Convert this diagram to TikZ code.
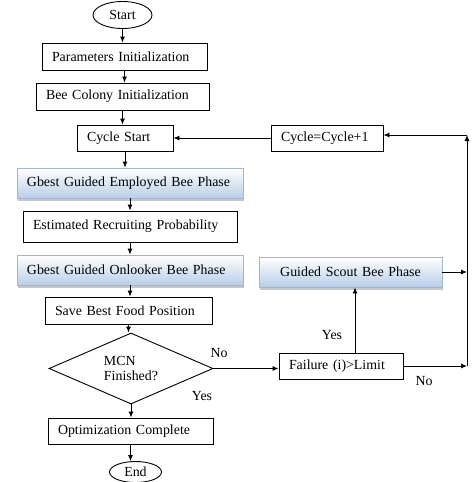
\documentclass[tikz,border=0pt]{standalone}
\usepackage{fontspec}
\setmainfont{Liberation Serif}
\usetikzlibrary{shapes.geometric,shadows,arrows.meta}
\definecolor{phaseblue}{RGB}{184,206,233}
\definecolor{phaseedge}{RGB}{160,182,210}
\tikzset{
  procbox/.style={draw, rectangle, align=left, inner xsep=10pt, inner ysep=0pt, minimum height=27pt},
  phasebox/.style={draw=phaseedge, rectangle, align=left, inner xsep=10pt, inner ysep=0pt, minimum height=30pt,
    top color=white, bottom color=phaseblue,
    drop shadow={shadow xshift=0.5pt, shadow yshift=-3pt, opacity=0.45}},
  termnode/.style={draw, ellipse, inner sep=0pt},
  lbl/.style={inner sep=0pt}
}
\begin{document}
\begin{tikzpicture}[x=1pt,y=-1pt,line width=0.9pt,>={Latex[length=6pt,width=5pt]}]
\fontsize{13.9}{15}\selectfont
\useasboundingbox (0,0) rectangle (474,482);
% left column
\node[termnode, minimum width=59pt, minimum height=27pt] (start) at (122.5,15) {Start};
\node[procbox, text width=145pt] (param) at (124.5,56.5) {Parameters Initialization};
\node[procbox, text width=153pt] (colony) at (122.5,96.5) {Bee Colony Initialization};
\node[procbox, text width=76pt, minimum height=26pt] (cyc) at (125,138) {Cycle Start};
\node[phasebox, text width=206pt] (employed) at (130,183) {Gbest Guided Employed Bee Phase};
\node[procbox, text width=194pt, minimum height=31pt] (prob) at (130,226.5) {Estimated Recruiting Probability};
\node[phasebox, text width=206pt] (onlooker) at (130,270) {Gbest Guided Onlooker Bee Phase};
\node[procbox, text width=147pt] (save) at (128.5,310.5) {Save Best Food Position};
\node[draw, diamond, aspect=2.3, inner sep=0pt, minimum width=164pt, minimum height=71pt, align=left] (mcn) at (131,368.5) {MCN\\Finished?};
\node[procbox, text width=145pt, minimum height=26pt] (opt) at (130.5,431) {Optimization Complete};
\node[termnode, minimum width=52pt, minimum height=21pt] (end) at (135.5,472) {End};
% right column
\node[procbox, text width=92pt, minimum height=26pt] (incr) at (327,138) {Cycle=Cycle+1};
\node[phasebox, align=center, text width=163pt] (scout) at (350.5,272) {Guided Scout Bee Phase};
\node[procbox, text width=104pt, minimum height=26pt] (fail) at (341,366) {Failure (i)>Limit};
\coordinate (corner) at (467,135);
% labels
\node[lbl] (no1) at (219,353) {No};
\node[lbl] (yes1) at (202,396) {Yes};
\node[lbl] (yes2) at (332,335) {Yes};
\node[lbl] (no2) at (424,381) {No};
% connectors
\foreach \a/\b in {start/param, param/colony, colony/cyc, cyc/employed, employed/prob,
  prob/onlooker, onlooker/save, save/mcn, mcn/opt, opt/end}
  \draw[->] (\a.south) -- (\a.south |- \b.north);
\draw[->] (mcn.east) -- (mcn.east -| fail.west);
\draw[->] ([xshift=14pt]fail.north) -- ([xshift=14pt]fail.north |- scout.south);
\draw[->] (fail.east) -- (fail.east -| corner);
\draw[->] (scout.east) -- (scout.east -| corner);
\draw[->] (fail.east -| corner) -- (corner);
\draw[->] (corner) -- (corner -| incr.east);
\draw[->] (incr.west) -- (incr.west -| cyc.east);
\end{tikzpicture}
\end{document}
